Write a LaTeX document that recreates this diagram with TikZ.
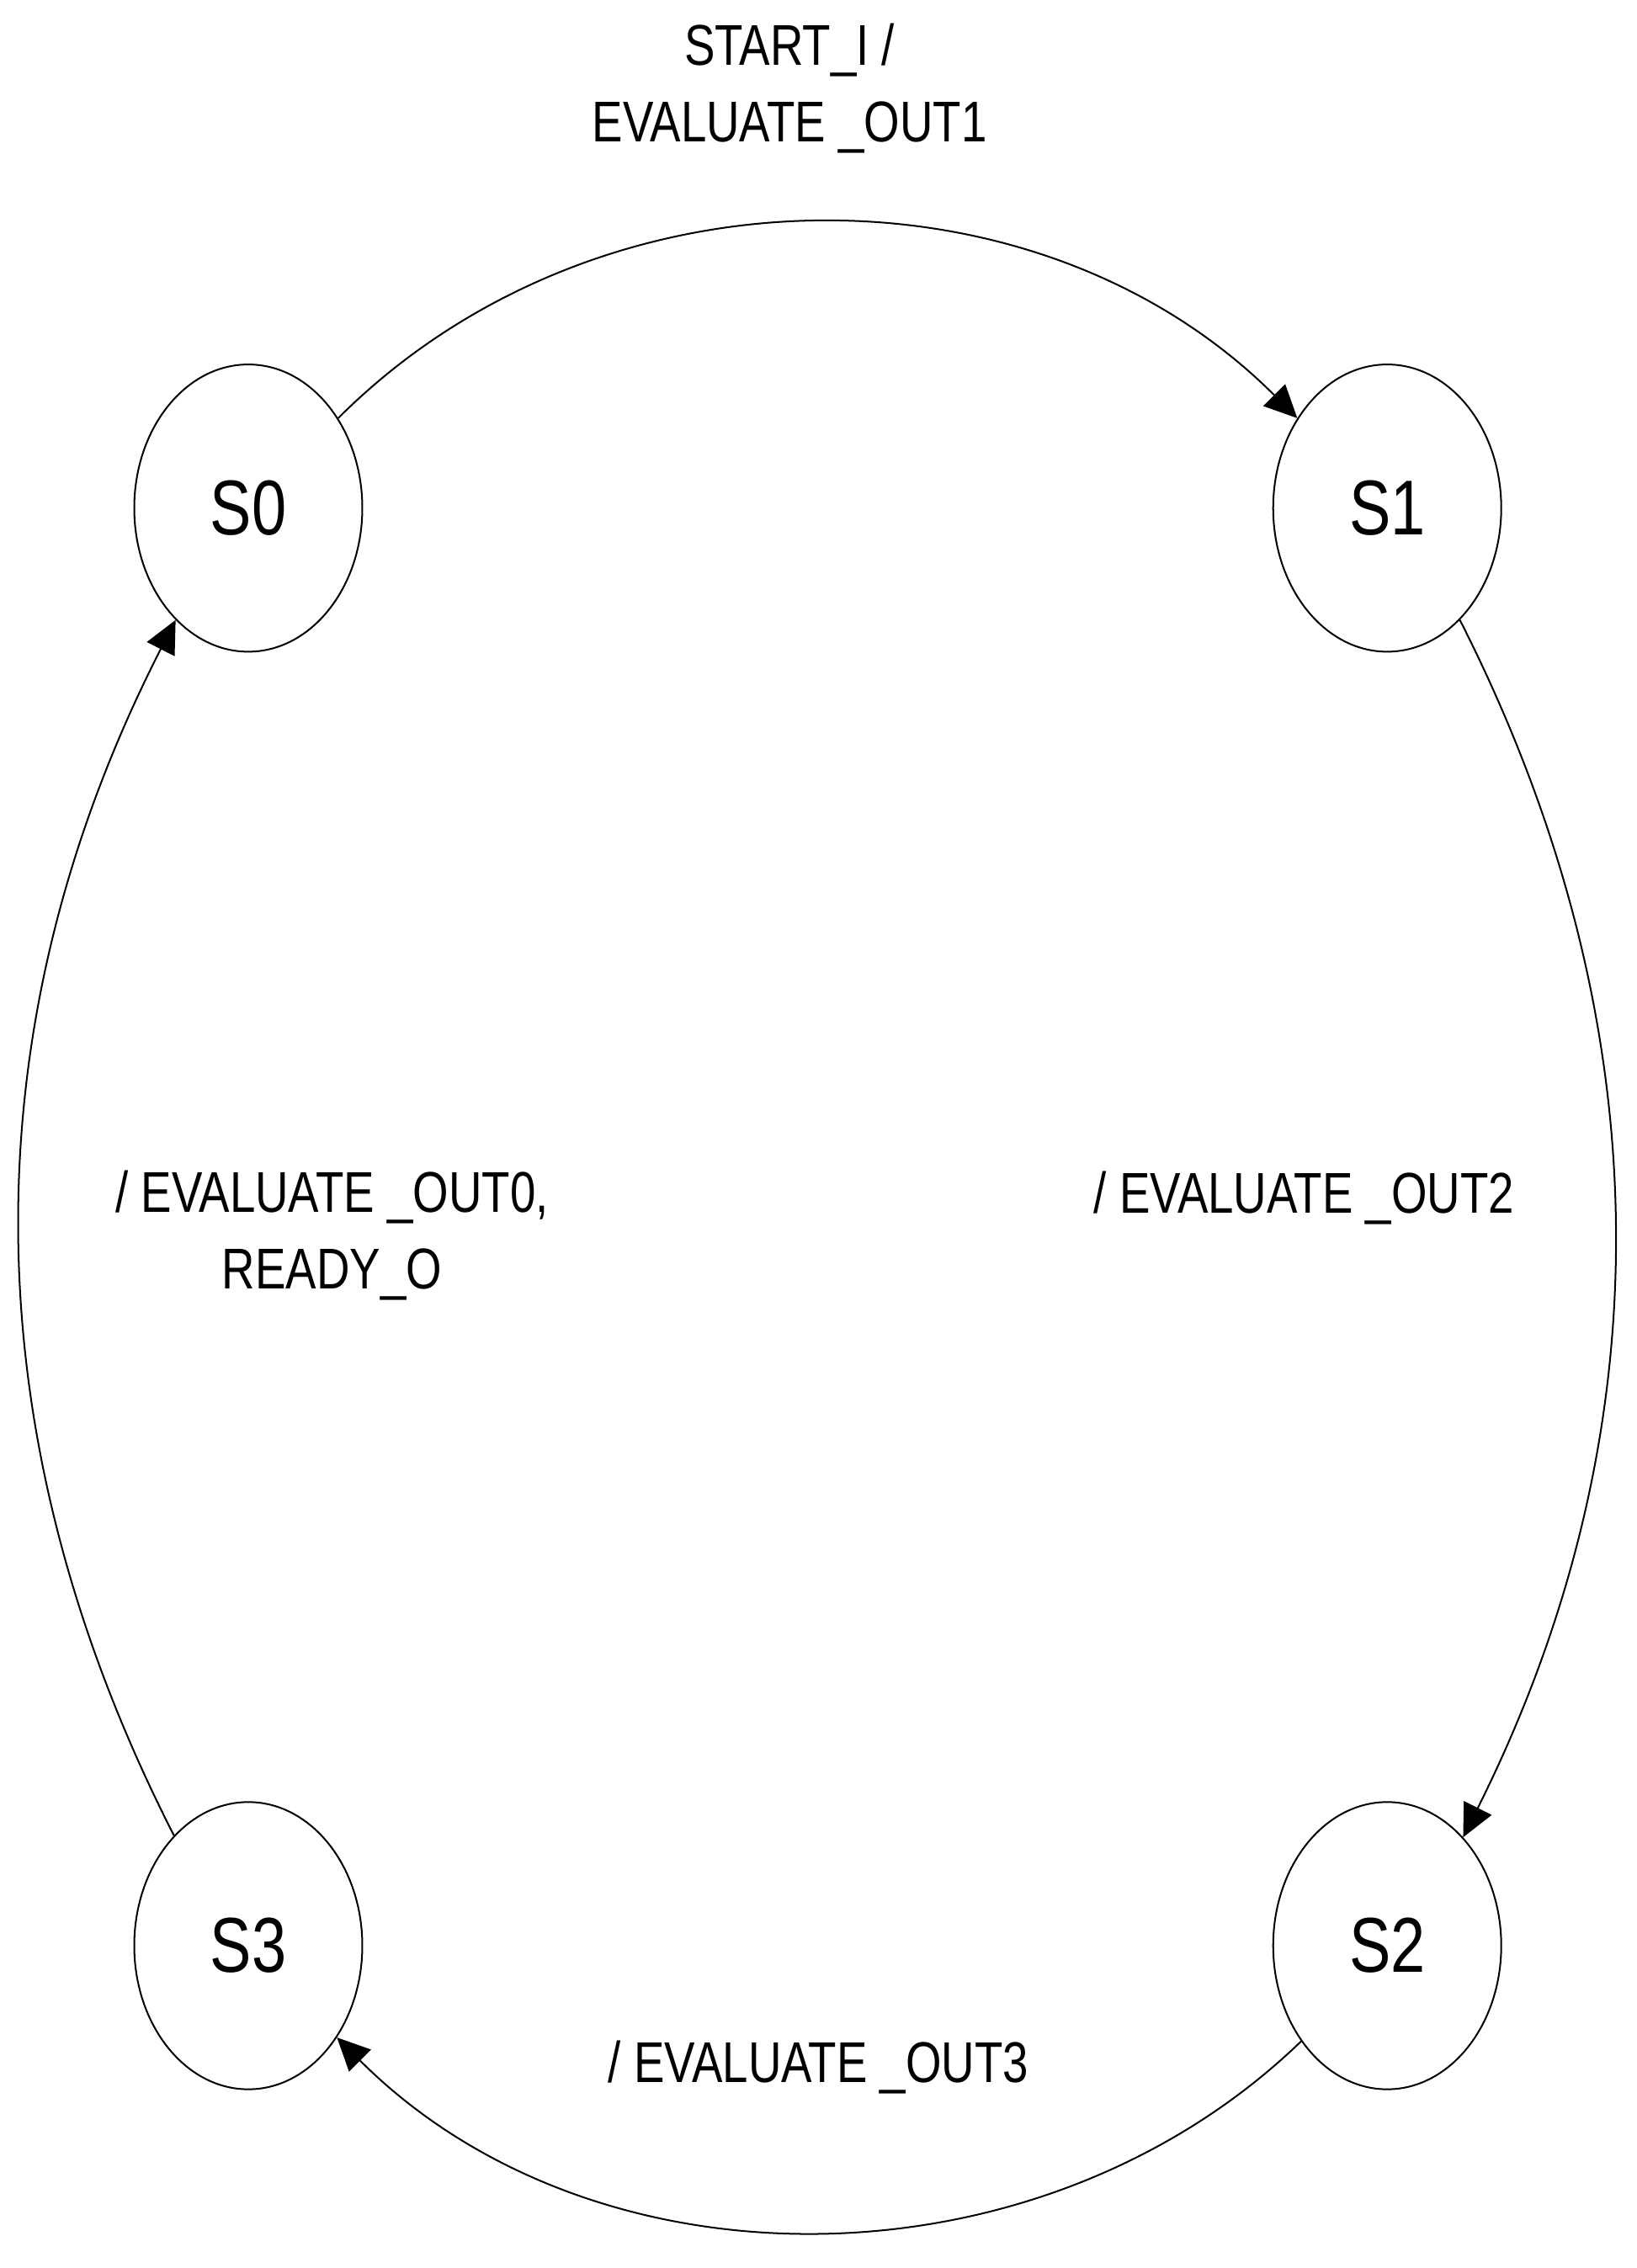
\documentclass[tikz,border=0pt]{standalone}
\usepackage{fontspec}
\setmainfont{Liberation Sans}[FakeStretch=0.8]
\usetikzlibrary{arrows.meta,shapes.geometric}
\begin{document}
\begin{tikzpicture}[line width=0.5pt, >={Triangle[length=0.34cm,width=0.32cm]},
            state/.style={draw, ellipse, minimum width=2.37cm, minimum height=2.985cm, inner sep=0pt, font=\fontsize{23}{27}\selectfont},
            lbl/.style={align=center, font=\fontsize{17}{22.6}\selectfont}]
            \useasboundingbox (0,0) rectangle (17.01,-23.57);
            \node[state] (s0) at (2.58,-5.28) {S0};
            \node[state] (s1) at (14.415,-5.28) {S1};
            \node[state] (s2) at (14.415,-20.22) {S2};
            \node[state] (s3) at (2.58,-20.22) {S3};
            \draw[->] (s0.45) .. controls +(2.7,2.7) and +(-2.7,2.7) .. (s1.135);
            \draw[->] (s1.-57) .. controls +(2.13,-4.2) and +(2.1,4.2) .. (s2.55);
            \draw[->] (s2.-132) .. controls +(-2.7,-2.61) and +(2.7,-2.7) .. (s3.-46);
            \draw[->] (s3.124) .. controls +(-2.145,4.2) and +(-2.145,-4.2) .. (s0.-123);
            \node[lbl] (l01) at (8.205,-0.915) {START\_I /\\EVALUATE \_OUT1};
            \node[lbl] (l12) at (13.55,-12.45) {/ EVALUATE \_OUT2};
            \node[lbl] (l23) at (8.505,-21.48) {/ EVALUATE \_OUT3};
            \node[lbl] (l30) at (3.45,-12.84) {/ EVALUATE \_OUT0,\\READY\_O};
\end{tikzpicture}
\end{document}
